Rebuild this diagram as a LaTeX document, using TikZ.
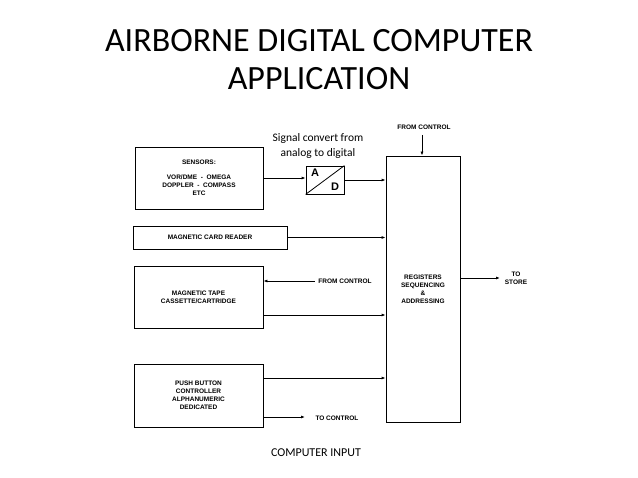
\documentclass[tikz,border=0pt]{standalone}
\usepackage{fontspec}
\setmainfont{Carlito}
\newfontfamily\arial{Liberation Sans}
\usetikzlibrary{arrows.meta}
\begin{document}
\begin{tikzpicture}[x=1pt,y=-1pt,
  blk/.style={draw,line width=0.8pt},
  lbl/.style={font=\arial\bfseries\fontsize{6.5}{8}\selectfont,align=center},
  arr/.style={-{Latex[length=4pt,width=3pt]},line width=0.9pt}]
\useasboundingbox (0,0) rectangle (638,478);
\node[font=\fontsize{34}{38}\selectfont,align=center] (title) at (319,60) {AIRBORNE DIGITAL COMPUTER\\APPLICATION};
\node[blk,minimum width=128pt,minimum height=62pt,lbl] (sens) at (199,178) {SENSORS:\\[7pt]VOR/DME\ \ -\ \ OMEGA\\DOPPLER\ \ -\ \ COMPASS\\ETC};
\node[blk,minimum width=154pt,minimum height=23pt,lbl] (card) at (210,237.5) {MAGNETIC CARD READER};
\node[blk,minimum width=129pt,minimum height=62pt,lbl] (tape) at (198.5,297) {MAGNETIC TAPE\\CASSETTE/CARTRIDGE};
\node[blk,minimum width=129pt,minimum height=63pt,lbl] (push) at (198.5,395.5) {PUSH BUTTON\\CONTROLLER\\ALPHANUMERIC\\DEDICATED};
\node[blk,minimum width=74pt,minimum height=266pt,lbl] (reg) at (423,289) {REGISTERS\\SEQUENCING\\\&\\ADDRESSING};
\node[blk,minimum width=38pt,minimum height=28pt] (ad) at (325,180) {};
\draw[line width=0.8pt] (ad.south west) -- (ad.north east);
\node[font=\arial\bfseries\fontsize{11}{12}\selectfont] (A) at (315,173) {A};
\node[font=\arial\bfseries\fontsize{11}{12}\selectfont] (D) at (335,187) {D};
\node[font=\fontsize{11.5}{15}\selectfont,align=center] (sig) at (318,146) {Signal convert from\\analog to digital};
\draw[arr] (sens.east |- 0,178) -- (ad.west |- 0,178);
\draw[arr] (ad.east) -- (reg.west |- ad.east);
\draw[arr] (card.east) -- (reg.west |- card.east);
\draw[arr] (tape.east |- 0,315) -- (reg.west |- 0,315);
\draw[arr] (push.east |- 0,378) -- (reg.west |- 0,378);
\node[lbl] (fc1) at (424,127) {FROM CONTROL};
\draw[arr] (422,135) -- (reg.north -| 422,0);
\node[lbl] (fc2) at (345,281) {FROM CONTROL};
\draw[arr] (fc2.west) -- (tape.east |- fc2.west);
\coordinate (tc) at (305,417);
\draw[arr] (push.east |- tc) -- (tc);
\node[lbl,anchor=west] (tcl) at (312,418) {TO CONTROL};
\coordinate (ts) at (500,278);
\draw[arr] (reg.east |- ts) -- (ts);
\node[lbl] (tsl) at (516,278) {TO\\STORE};
\node[font=\fontsize{12}{14}\selectfont] (ci) at (316,453) {COMPUTER INPUT};
\end{tikzpicture}
\end{document}
